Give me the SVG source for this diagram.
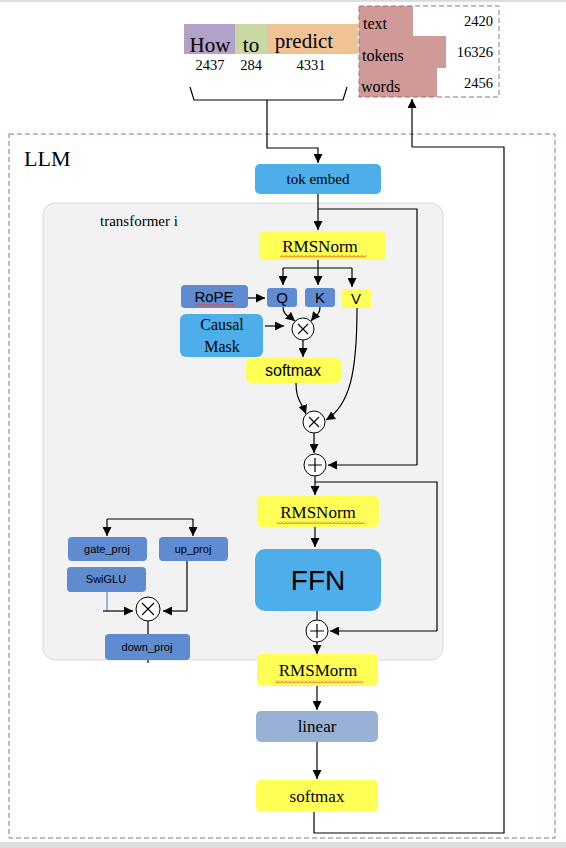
<svg xmlns="http://www.w3.org/2000/svg" width="566" height="848" viewBox="0 0 566 848">
<defs>
<marker id="ah" markerUnits="userSpaceOnUse" markerWidth="9" markerHeight="9" refX="9" refY="4.5" orient="auto" viewBox="0 0 9 9"><path d="M0,0 L9,4.5 L0,9 z" fill="#000"/></marker>
<pattern id="wavy" patternUnits="userSpaceOnUse" width="4" height="3"><path d="M0,2.5 L2,0.5 L4,2.5" fill="none" stroke="#e8402a" stroke-width="1"/></pattern>
<style>
.serif{font-family:"Liberation Serif","Times New Roman",serif;fill:#000}
.sans{font-family:"Liberation Sans",Arial,sans-serif;fill:#000}
.dash{fill:none;stroke:#a0706a;stroke-width:1;stroke-dasharray:5,3}
.yel{fill:#ffff55}
.blu{fill:#4eaee9}
.mid{fill:#5f8bd0}
.ln{fill:none;stroke:#000;stroke-width:1.2}
.arr{fill:none;stroke:#000;stroke-width:1.2;marker-end:url(#ah)}
.op{fill:#fff;stroke:#000;stroke-width:1}
.wv{fill:url(#wavy)}
</style>
</defs>
<rect x="0" y="0" width="566" height="848" fill="#fff"/>
<rect x="0" y="0" width="566" height="2" fill="#dddddd"/>
<rect x="0" y="842" width="566" height="6" fill="#dddddd"/>

<!-- input tokens -->
<g id="input">
<rect x="184" y="24" width="51" height="30" fill="#b0a2c8"/>
<rect x="235" y="24" width="32" height="30" fill="#c8d8a2"/>
<rect x="267" y="24" width="91" height="30" fill="#f1c294"/>
<text class="serif" x="210" y="52" font-size="21" text-anchor="middle">How</text>
<text class="serif" x="251" y="52" font-size="21" text-anchor="middle">to</text>
<text class="serif" x="304" y="48" font-size="21" text-anchor="middle">predict</text>
<text class="serif" x="210" y="70" font-size="14.5" text-anchor="middle">2437</text>
<text class="serif" x="251" y="70" font-size="14.5" text-anchor="middle">284</text>
<text class="serif" x="311" y="70" font-size="14.5" text-anchor="middle">4331</text>
</g>

<!-- output -->
<g id="output">
<path d="M359,6 H413 V36 H446 V68 H437 V97 H359 z" fill="#d09a98"/>
<rect class="dash" x="359" y="6" width="140" height="91"/>
<text class="serif" x="363" y="29" font-size="16">text</text>
<text class="serif" x="362" y="61" font-size="16">tokens</text>
<text class="serif" x="361" y="92" font-size="16">words</text>
<text class="serif" x="493" y="26" font-size="14.5" text-anchor="end">2420</text>
<text class="serif" x="493" y="57" font-size="14.5" text-anchor="end">16326</text>
<text class="serif" x="493" y="88" font-size="14.5" text-anchor="end">2456</text>
</g>

<!-- LLM container -->
<g id="llm">
<rect class="dash" x="9" y="134" width="546" height="704"/>
<text class="serif" x="24" y="166" font-size="22">LLM</text>
</g>

<g id="transformer">
<rect x="43" y="203" width="400" height="457" rx="12" fill="#f2f2f2" stroke="#d9d9d9" stroke-width="1"/>
<text class="serif" x="100" y="226" font-size="15">transformer i</text>
</g>

<!-- connectors -->
<g id="connectors">
<path class="ln" d="M190,87 L194,100 H343 L347,87"/>
<path class="arr" d="M267,100 V148 H318 V163"/>
<path class="arr" d="M412,147 V99"/>
<path class="ln" d="M314,812 V833 H504 V147 H412"/>
<path class="arr" d="M318,194 V230"/>
<path class="ln" d="M318,209 H417 V465"/>
<path class="arr" d="M417,465 H328"/>
<path class="ln" d="M318,260 V268"/>
<path class="ln" d="M283,268 H352"/>
<path class="arr" d="M283,268 V285"/>
<path class="arr" d="M318,268 V285"/>
<path class="arr" d="M352,268 V287"/>
<path class="arr" d="M248,298 H265"/>
<path class="arr" d="M265,326 H284"/>
<path class="arr" d="M283,307 C283,315 289,316 295,321"/>
<path class="arr" d="M320,307 C320,315 315,316 311,321"/>
<path class="arr" d="M303,340 V357"/>
<path class="arr" d="M296,383 C296,400 301,401 306,414"/>
<path class="arr" d="M357,308 C357,372 350,405 326,420"/>
<path class="arr" d="M314,433 V453"/>
<path class="arr" d="M315,476 V495"/>
<path class="ln" d="M315,482 H437 V631"/>
<path class="arr" d="M437,631 H330"/>
<path class="arr" d="M315,527 V547"/>
<path class="ln" d="M317,611 V620" stroke="#666"/>
<path class="arr" d="M317,642 V654"/>
<path class="arr" d="M317,686 V710"/>
<path class="arr" d="M317,742 V779"/>
<path class="ln" d="M107,519 H193"/>
<path class="arr" d="M107,519 V536"/>
<path class="arr" d="M193,519 V536"/>
<path d="M107,592 V611" fill="none" stroke="#4a6fc0" stroke-width="1"/>
<path class="arr" d="M103,611 H133"/>
<path class="ln" d="M187,561 V611"/>
<path class="arr" d="M187,611 H163"/>
<path class="ln" d="M148,621 V663"/>
</g>

<g id="tok_embed">
<rect class="blu" x="255" y="164" width="126" height="30" rx="5"/>
<text class="serif" x="318" y="184" font-size="15" text-anchor="middle">tok embed</text>
</g>

<g id="rmsnorm1">
<rect class="yel" x="259" y="231" width="127" height="29" rx="5"/>
<text class="serif" x="320" y="252" font-size="17" text-anchor="middle">RMSNorm</text>
<rect class="wv" x="280" y="255" width="86" height="3"/>
</g>

<g id="q"><rect class="mid" x="267" y="288" width="30" height="19" rx="3"/><text class="sans" x="282" y="303" font-size="15" text-anchor="middle">Q</text></g>
<g id="k"><rect class="mid" x="305" y="288" width="30" height="19" rx="3"/><text class="sans" x="320" y="303" font-size="15" text-anchor="middle">K</text></g>
<g id="v"><rect class="yel" x="341" y="289" width="30" height="19" rx="3"/><text class="sans" x="356" y="304" font-size="15" text-anchor="middle">V</text></g>

<g id="rope">
<rect class="mid" x="181" y="285" width="67" height="23" rx="4"/>
<text class="sans" x="214" y="302" font-size="15" text-anchor="middle">RoPE</text>
<rect class="wv" x="195" y="304" width="40" height="3"/>
</g>

<g id="causal_mask">
<rect class="blu" x="180" y="314" width="83" height="43" rx="6"/>
<text class="serif" x="222" y="330" font-size="16" text-anchor="middle">Causal</text>
<text class="serif" x="222" y="352" font-size="16" text-anchor="middle">Mask</text>
</g>

<g id="mul1"><circle class="op" cx="303" cy="329" r="11"/><path class="ln" d="M298,324 L308,334 M308,324 L298,334" stroke-width="1"/></g>

<g id="softmax1">
<rect class="yel" x="246" y="358" width="95" height="25" rx="5"/>
<text class="sans" x="293" y="376" font-size="16" text-anchor="middle">softmax</text>
</g>

<g id="mul2"><circle class="op" cx="314" cy="422" r="11"/><path class="ln" d="M309,417 L319,427 M319,417 L309,427" stroke-width="1"/></g>
<g id="add1"><circle class="op" cx="315" cy="465" r="11"/><path class="ln" d="M308,465 H322 M315,458 V472" stroke-width="1"/></g>

<g id="rmsnorm2">
<rect class="yel" x="257" y="496" width="122" height="31" rx="5"/>
<text class="serif" x="318" y="518" font-size="17" text-anchor="middle">RMSNorm</text>
<rect class="wv" x="277" y="521" width="88" height="3"/>
</g>

<g id="ffn">
<rect class="blu" x="255" y="549" width="126" height="62" rx="10"/>
<text class="sans" x="318" y="590" font-size="28" text-anchor="middle">FFN</text>
</g>

<g id="add2"><circle class="op" cx="317" cy="631" r="11"/><path class="ln" d="M310,631 H324 M317,624 V638" stroke-width="1"/></g>

<g id="gate_proj"><rect class="mid" x="68" y="537" width="79" height="24" rx="4"/><text class="sans" x="107" y="553" font-size="11" text-anchor="middle">gate_proj</text></g>
<g id="up_proj"><rect class="mid" x="159" y="537" width="69" height="24" rx="4"/><text class="sans" x="193" y="553" font-size="11" text-anchor="middle">up_proj</text></g>
<g id="swiglu"><rect class="mid" x="67" y="567" width="79" height="25" rx="4"/><text class="sans" x="106" y="583" font-size="11" text-anchor="middle">SwiGLU</text></g>
<g id="mul3"><circle class="op" cx="148" cy="609" r="12"/><path class="ln" d="M142,603 L154,615 M154,603 L142,615" stroke-width="1"/></g>
<g id="down_proj"><rect class="mid" x="105" y="634" width="85" height="26" rx="4"/><text class="sans" x="147" y="651" font-size="11" text-anchor="middle">down_proj</text></g>

<g id="rmsmorm">
<rect class="yel" x="257" y="654" width="121" height="32" rx="5"/>
<text class="serif" x="318" y="676" font-size="17" text-anchor="middle">RMSMorm</text>
<rect class="wv" x="275" y="680" width="88" height="3"/>
</g>

<g id="linear">
<rect x="256" y="711" width="122" height="31" rx="5" fill="#98b1d5"/>
<text class="serif" x="317" y="732" font-size="17" text-anchor="middle">linear</text>
</g>

<g id="softmax2">
<rect class="yel" x="256" y="780" width="122" height="32" rx="5"/>
<text class="serif" x="317" y="802" font-size="17" text-anchor="middle">softmax</text>
</g>
</svg>
